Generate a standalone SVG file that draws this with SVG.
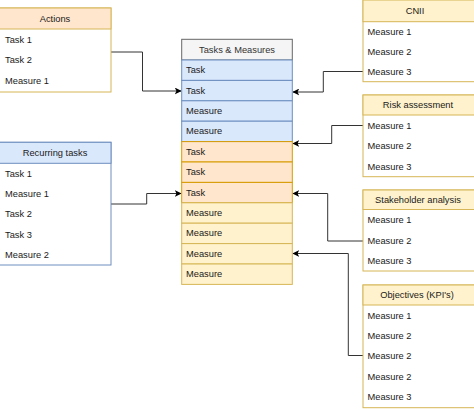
<svg xmlns="http://www.w3.org/2000/svg" width="474" height="410" viewBox="0 0 474 410">
<style>
text{font-family:"Liberation Sans",Arial,sans-serif;font-size:9.3px;fill:#1a1a1a;dominant-baseline:central}
.h{text-anchor:middle}
.box{fill:#ffffff}
.yl{stroke:#d6b656;stroke-width:1}
.bl{stroke:#6c8ebf;stroke-width:1}
.or{stroke:#d79b00;stroke-width:1}
.yh{fill:#fff2cc}
.bh{fill:#dae8fc}
.oh{fill:#ffe6cc}
.gh{fill:#f5f5f5;stroke:#666666;stroke-width:1}
.rb{fill:#dae8fc;stroke:#6c8ebf}
.ro{fill:#ffe6cc;stroke:#d79b00}
.ry{fill:#fff2cc;stroke:#d6b656}
.conn{fill:none;stroke:#333333;stroke-width:1}
</style>
<defs>
<marker id="arr" viewBox="0 0 10 10" refX="9" refY="5" markerWidth="7" markerHeight="7" orient="auto" markerUnits="userSpaceOnUse">
<path d="M0,0 L10,5 L0,10 L2.5,5 Z" fill="#000000"/>
</marker>
</defs>

<g id="connectors">
<path class="conn" d="M111,52 H142.5 V91 H181" marker-end="url(#arr)"/>
<path class="conn" d="M111,204 H146.7 V193.5 H181" marker-end="url(#arr)"/>
<path class="conn" d="M363,71.5 H323.3 V92 H293" marker-end="url(#arr)"/>
<path class="conn" d="M363,125.5 H331.7 V143.5 H293" marker-end="url(#arr)"/>
<path class="conn" d="M363,241 H327.7 V193.5 H293" marker-end="url(#arr)"/>
<path class="conn" d="M363,355.5 H348.3 V253.5 H293" marker-end="url(#arr)"/>
</g>

<g id="actions">
<rect class="box yl" x="-1" y="8" width="112" height="84"/>
<rect class="oh yl" x="-1" y="8" width="112" height="21"/>
<text class="h" x="55" y="18.5">Actions</text>
<text x="5" y="39.5">Task 1</text>
<text x="5" y="60">Task 2</text>
<text x="5" y="80.5">Measure 1</text>
</g>

<g id="recurring-tasks">
<rect class="box bl" x="-1" y="142.3" width="112" height="122.7"/>
<rect class="bh bl" x="-1" y="142.3" width="112" height="21"/>
<text class="h" x="55" y="152.8">Recurring tasks</text>
<text x="5" y="173.5">Task 1</text>
<text x="5" y="194">Measure 1</text>
<text x="5" y="214.3">Task 2</text>
<text x="5" y="234.7">Task 3</text>
<text x="5" y="255">Measure 2</text>
</g>

<g id="tasks-measures">
<rect class="gh" x="181.7" y="39.3" width="110.6" height="20.7"/>
<text class="h" x="237" y="49.7" style="fill:#333333">Tasks &amp; Measures</text>
<rect class="rb" x="181.7" y="60" width="110.6" height="20.4"/>
<text x="186" y="70.2">Task</text>
<rect class="rb" x="181.7" y="80.4" width="110.6" height="20.4"/>
<text x="186" y="90.6">Task</text>
<rect class="rb" x="181.7" y="100.8" width="110.6" height="20.4"/>
<text x="186" y="111">Measure</text>
<rect class="rb" x="181.7" y="121.2" width="110.6" height="20.4"/>
<text x="186" y="131.4">Measure</text>
<rect class="ro" x="181.7" y="141.6" width="110.6" height="20.4"/>
<text x="186" y="151.8">Task</text>
<rect class="ro" x="181.7" y="162" width="110.6" height="20.4"/>
<text x="186" y="172.2">Task</text>
<rect class="ro" x="181.7" y="182.4" width="110.6" height="20.4"/>
<text x="186" y="192.6">Task</text>
<rect class="ry" x="181.7" y="202.8" width="110.6" height="20.4"/>
<text x="186" y="213">Measure</text>
<rect class="ry" x="181.7" y="223.2" width="110.6" height="20.4"/>
<text x="186" y="233.4">Measure</text>
<rect class="ry" x="181.7" y="243.6" width="110.6" height="20.4"/>
<text x="186" y="253.8">Measure</text>
<rect class="ry" x="181.7" y="264" width="110.6" height="20.4"/>
<text x="186" y="274.2">Measure</text>
</g>

<g id="cnii">
<rect class="box yl" x="363" y="0" width="120" height="81.7"/>
<rect class="yh yl" x="363" y="0" width="120" height="21.7"/>
<text class="h" x="415" y="11">CNII</text>
<text x="367.5" y="32">Measure 1</text>
<text x="367.5" y="52">Measure 2</text>
<text x="367.5" y="72">Measure 3</text>
</g>

<g id="risk-assessment">
<rect class="box yl" x="363" y="95" width="120" height="81.7"/>
<rect class="yh yl" x="363" y="95" width="120" height="20"/>
<text class="h" x="418" y="105">Risk assessment</text>
<text x="367.5" y="125.7">Measure 1</text>
<text x="367.5" y="146.2">Measure 2</text>
<text x="367.5" y="166.7">Measure 3</text>
</g>

<g id="stakeholder-analysis">
<rect class="box yl" x="363" y="190" width="120" height="81"/>
<rect class="yh yl" x="363" y="190" width="120" height="19.5"/>
<text class="h" x="418" y="199.8">Stakeholder analysis</text>
<text x="367.5" y="220">Measure 1</text>
<text x="367.5" y="240.7">Measure 2</text>
<text x="367.5" y="261">Measure 3</text>
</g>

<g id="objectives">
<rect class="box yl" x="363" y="285" width="120" height="122.7"/>
<rect class="yh yl" x="363" y="285" width="120" height="20"/>
<text class="h" x="417" y="295">Objectives (KPI's)</text>
<text x="367.5" y="315.7">Measure 1</text>
<text x="367.5" y="336">Measure 2</text>
<text x="367.5" y="356.3">Measure 2</text>
<text x="367.5" y="376.7">Measure 2</text>
<text x="367.5" y="397">Measure 3</text>
</g>
</svg>
